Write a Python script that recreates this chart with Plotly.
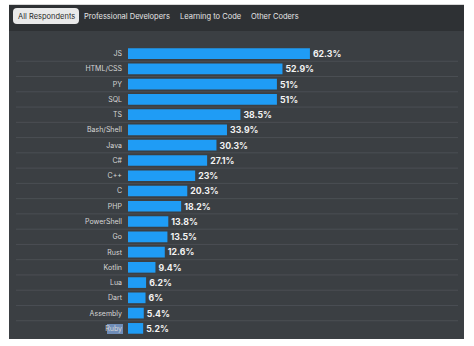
import plotly.graph_objects as go

languages = ["JS", "HTML/CSS", "PY", "SQL", "TS", "Bash/Shell", "Java", "C#", "C++", "C",
             "PHP", "PowerShell", "Go", "Rust", "Kotlin", "Lua", "Dart", "Assembly", "Ruby"]
values = [62.3, 52.9, 51, 51, 38.5, 33.9, 30.3, 27.1, 23, 20.3,
          18.2, 13.8, 13.5, 12.6, 9.4, 6.2, 6, 5.4, 5.2]
tabs = ["All Respondents", "Professional Developers", "Learning to Code", "Other Coders"]

FW, FH = 474, 346
ML, MR, MT, MB = 128, 19, 46, 10
PW, PH = FW - ML - MR, FH - MT - MB
PX_PER_PCT = 2.92
XMAX = PW / PX_PER_PCT

def px(x):
    return (x - ML) / PW

def py(y):
    return (FH - MB - y) / PH

fig = go.Figure()
fig.add_trace(go.Bar(
    x=values, y=languages, orientation="h",
    marker=dict(color="#1f9cf5", line=dict(width=0)),
    width=0.7,
    text=[f"{v:g}%" for v in values],
    textposition="outside",
    textfont=dict(color="#f2f2f2", size=9, family="Inter, sans-serif", weight="bold"),
    cliponaxis=False,
    hoverinfo="skip",
))

shapes = []
shapes.append(dict(type="rect", xref="paper", yref="paper", layer="below",
                   x0=px(9), x1=px(464), y0=py(339), y1=py(5),
                   fillcolor="#3b3f43", line=dict(width=0)))
shapes.append(dict(type="rect", xref="paper", yref="paper", layer="below",
                   x0=px(9), x1=px(464), y0=py(31), y1=py(5),
                   fillcolor="#2e3134", line=dict(width=0)))
shapes.append(dict(type="line", xref="paper", yref="paper", layer="below",
                   x0=px(9), x1=px(464), y0=py(4.5), y1=py(4.5),
                   line=dict(color="#d8d8d8", width=1)))

def rounded_rect(x0, y0, x1, y1, r):
    return (f"M {px(x0 + r)},{py(y0)} L {px(x1 - r)},{py(y0)} "
            f"Q {px(x1)},{py(y0)} {px(x1)},{py(y0 + r)} "
            f"L {px(x1)},{py(y1 - r)} Q {px(x1)},{py(y1)} {px(x1 - r)},{py(y1)} "
            f"L {px(x0 + r)},{py(y1)} Q {px(x0)},{py(y1)} {px(x0)},{py(y1 - r)} "
            f"L {px(x0)},{py(y0 + r)} Q {px(x0)},{py(y0)} {px(x0 + r)},{py(y0)} Z")

shapes.append(dict(type="path", xref="paper", yref="paper", layer="below",
                   path=rounded_rect(13, 8, 79, 24, 4),
                   fillcolor="#e9e9e9", line=dict(width=0)))

for i in range(len(languages) - 1):
    shapes.append(dict(type="line", xref="paper", yref="y", layer="below",
                       x0=px(16), x1=px(458), y0=i + 0.5, y1=i + 0.5,
                       line=dict(color="#4b4f54", width=1)))

shapes.append(dict(type="rect", xref="paper", yref="paper", layer="below",
                   x0=px(107), x1=px(123), y0=py(334), y1=py(324),
                   fillcolor="#6f8db8", line=dict(width=0)))

annotations = []
tab_x = [46, 127, 210, 275]
for t, cx in zip(tabs, tab_x):
    active = t == tabs[0]
    annotations.append(dict(
        text=t, xref="paper", yref="paper", x=px(cx), y=py(16.5),
        showarrow=False, xanchor="center", yanchor="middle",
        font=dict(size=7.5, family="Inter, sans-serif",
                  color="#2a2a2a" if active else "#e6e6e6"),
    ))

fig.update_layout(
    width=FW, height=FH,
    margin=dict(l=ML, r=MR, t=MT, b=MB, pad=0),
    paper_bgcolor="#ffffff",
    plot_bgcolor="rgba(0,0,0,0)",
    showlegend=False,
    shapes=shapes,
    annotations=annotations,
    xaxis=dict(range=[0, XMAX], visible=False, fixedrange=True),
    yaxis=dict(autorange="reversed", showgrid=False, zeroline=False, showline=False,
               ticks="", ticklabelstandoff=5,
               tickfont=dict(size=7, family="Inter, sans-serif", color="#d6d6d6"),
               fixedrange=True),
)

fig.write_html("out.html")
